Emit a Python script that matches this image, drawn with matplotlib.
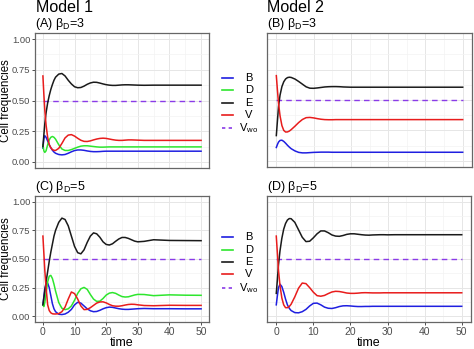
import matplotlib
matplotlib.use("Agg")
import matplotlib.pyplot as plt
from matplotlib.lines import Line2D
from matplotlib.ticker import MultipleLocator, FormatStrFormatter

plt.rcParams["font.family"] = ["Liberation Sans", "DejaVu Sans"]
plt.rcParams["mathtext.fontset"] = "custom"
plt.rcParams["mathtext.rm"] = "Liberation Sans"
plt.rcParams["mathtext.it"] = "Liberation Sans:italic"

# shared time grid
t = [0, 0.3, 0.6, 1, 1.5, 2, 2.5, 3, 3.5, 4,
     5, 6, 7, 8, 9, 10, 11, 12, 13, 14,
     15, 16, 17, 18, 19, 20, 21, 22, 23, 24,
     25, 26, 27, 28, 29, 30, 32, 35, 40, 45, 50]

# (A) Model 1, beta_D = 3
a_B = [0.112, 0.19, 0.213, 0.20, 0.17, 0.14, 0.115, 0.095, 0.08, 0.07,
       0.06, 0.057, 0.06, 0.07, 0.082, 0.092, 0.097, 0.097, 0.094, 0.089,
       0.085, 0.083, 0.083, 0.084, 0.086, 0.087, 0.087, 0.087, 0.087, 0.087,
       0.087, 0.087, 0.087, 0.087, 0.087, 0.087, 0.087, 0.087, 0.087, 0.087, 0.087]
a_D = [0.14, 0.09, 0.077, 0.09, 0.14, 0.18, 0.2, 0.207, 0.2, 0.185,
       0.14, 0.105, 0.093, 0.093, 0.1, 0.11, 0.12, 0.128, 0.131, 0.131,
       0.128, 0.125, 0.122, 0.12, 0.12, 0.121, 0.122, 0.122, 0.122, 0.122,
       0.122, 0.122, 0.122, 0.122, 0.122, 0.122, 0.122, 0.122, 0.122, 0.122, 0.122]
a_E = [0.125, 0.22, 0.31, 0.40, 0.48, 0.54, 0.59, 0.63, 0.665, 0.69,
       0.715, 0.72, 0.70, 0.665, 0.635, 0.612, 0.604, 0.606, 0.617, 0.632,
       0.643, 0.649, 0.648, 0.642, 0.635, 0.629, 0.625, 0.623, 0.623, 0.625,
       0.627, 0.628, 0.628, 0.627, 0.626, 0.625, 0.624, 0.625, 0.625, 0.625, 0.625]
a_V = [0.70, 0.55, 0.42, 0.30, 0.20, 0.14, 0.115, 0.10, 0.094, 0.093,
       0.11, 0.15, 0.195, 0.218, 0.222, 0.21, 0.192, 0.176, 0.167, 0.166,
       0.171, 0.179, 0.186, 0.191, 0.193, 0.191, 0.186, 0.181, 0.177, 0.175,
       0.175, 0.177, 0.179, 0.179, 0.178, 0.177, 0.175, 0.175, 0.175, 0.175, 0.175]

# (B) Model 2, beta_D = 3
b_B = [0.11, 0.135, 0.155, 0.168, 0.17, 0.16, 0.145, 0.128, 0.113, 0.10,
       0.082, 0.07, 0.066, 0.066, 0.068, 0.07, 0.071, 0.072, 0.072, 0.072,
       0.071, 0.071, 0.071, 0.071, 0.071, 0.071, 0.071, 0.071, 0.071, 0.071,
       0.071, 0.071, 0.071, 0.071, 0.071, 0.071, 0.071, 0.071, 0.071, 0.071, 0.071]
b_E = [0.208, 0.33, 0.45, 0.54, 0.61, 0.65, 0.673, 0.684, 0.687, 0.685,
       0.672, 0.652, 0.63, 0.608, 0.597, 0.596, 0.599, 0.603, 0.607, 0.609,
       0.61, 0.61, 0.609, 0.607, 0.606, 0.605, 0.605, 0.605, 0.605, 0.605,
       0.605, 0.605, 0.605, 0.605, 0.605, 0.605, 0.605, 0.605, 0.605, 0.605, 0.605]
b_V = [0.70, 0.58, 0.47, 0.37, 0.29, 0.25, 0.237, 0.238, 0.245, 0.257,
       0.285, 0.315, 0.34, 0.355, 0.357, 0.353, 0.347, 0.342, 0.339, 0.338,
       0.338, 0.339, 0.339, 0.339, 0.339, 0.339, 0.339, 0.339, 0.339, 0.339,
       0.339, 0.339, 0.339, 0.339, 0.339, 0.339, 0.339, 0.339, 0.339, 0.339, 0.339]

# (C) Model 1, beta_D = 5
c_B = [0.10, 0.17, 0.24, 0.28, 0.29, 0.25, 0.18, 0.11, 0.065, 0.04,
       0.018, 0.015, 0.02, 0.035, 0.06, 0.10, 0.122, 0.115, 0.09, 0.065,
       0.048, 0.04, 0.042, 0.052, 0.065, 0.075, 0.08, 0.078, 0.072, 0.066,
       0.062, 0.06, 0.06, 0.062, 0.064, 0.066, 0.068, 0.066, 0.066, 0.065, 0.065]
c_D = [0.10, 0.085, 0.12, 0.20, 0.30, 0.35, 0.357, 0.33, 0.28, 0.22,
       0.12, 0.07, 0.058, 0.065, 0.09, 0.14, 0.20, 0.24, 0.252, 0.235,
       0.19, 0.15, 0.13, 0.132, 0.155, 0.185, 0.202, 0.207, 0.20, 0.185,
       0.172, 0.168, 0.17, 0.178, 0.186, 0.191, 0.19, 0.18, 0.187, 0.184, 0.183]
c_E = [0.10, 0.16, 0.22, 0.30, 0.39, 0.48, 0.56, 0.63, 0.70, 0.75,
       0.82, 0.857, 0.845, 0.79, 0.70, 0.61, 0.555, 0.545, 0.58, 0.645,
       0.70, 0.728, 0.72, 0.69, 0.65, 0.627, 0.622, 0.633, 0.655, 0.675,
       0.688, 0.688, 0.68, 0.668, 0.656, 0.65, 0.654, 0.668, 0.662, 0.661, 0.66]
c_V = [0.70, 0.55, 0.40, 0.25, 0.10, 0.05, 0.03, 0.022, 0.02, 0.02,
       0.023, 0.04, 0.08, 0.15, 0.212, 0.198, 0.15, 0.09, 0.058, 0.06,
       0.075, 0.095, 0.115, 0.125, 0.126, 0.117, 0.103, 0.092, 0.088, 0.088,
       0.092, 0.098, 0.103, 0.105, 0.104, 0.10, 0.094, 0.092, 0.096, 0.095, 0.095]

# (D) Model 2, beta_D = 5
d_B = [0.10, 0.18, 0.25, 0.28, 0.26, 0.21, 0.15, 0.10, 0.07, 0.05,
       0.032, 0.03, 0.04, 0.06, 0.09, 0.113, 0.115, 0.10, 0.08, 0.07,
       0.068, 0.075, 0.085, 0.091, 0.092, 0.09, 0.087, 0.085, 0.085, 0.086,
       0.086, 0.087, 0.087, 0.087, 0.087, 0.087, 0.087, 0.087, 0.087, 0.087, 0.087]
d_E = [0.20, 0.32, 0.45, 0.57, 0.68, 0.76, 0.81, 0.84, 0.853, 0.852,
       0.82, 0.755, 0.69, 0.652, 0.655, 0.685, 0.72, 0.745, 0.745, 0.73,
       0.71, 0.70, 0.698, 0.705, 0.715, 0.72, 0.72, 0.716, 0.712, 0.709,
       0.708, 0.71, 0.711, 0.712, 0.712, 0.711, 0.712, 0.712, 0.712, 0.712, 0.712]
d_V = [0.70, 0.55, 0.40, 0.27, 0.16, 0.10, 0.075, 0.075, 0.085, 0.105,
       0.17, 0.245, 0.29, 0.285, 0.25, 0.21, 0.18, 0.175, 0.182, 0.198,
       0.212, 0.218, 0.216, 0.21, 0.203, 0.20, 0.20, 0.202, 0.205, 0.206,
       0.205, 0.204, 0.204, 0.204, 0.205, 0.205, 0.205, 0.205, 0.205, 0.205, 0.205]

v_wo = 0.5
legend_labels = ["B", "D", "E", "V", r"$\mathregular{V_{wo}}$"]
colors = {"B": "#1f1fe0", "D": "#2ee62e", "E": "#1a1a1a", "V": "#e81c1c", "Vwo": "#8a3be8"}

W, H = 474, 349
fig = plt.figure(figsize=(W / 100, H / 100), dpi=100)


def px_axes(l, t_, r, b):
    return fig.add_axes([l / W, 1 - b / H, (r - l) / W, (b - t_) / H])


panels = [
    (px_axes(35, 33, 209, 168), {"B": a_B, "D": a_D, "E": a_E, "V": a_V}, r"(A) $\mathregular{\beta_D}$=3", True, False),
    (px_axes(267, 33, 472, 167), {"B": b_B, "E": b_E, "V": b_V}, r"(B) $\mathregular{\beta_D}$=3", False, False),
    (px_axes(35, 196, 209, 322), {"B": c_B, "D": c_D, "E": c_E, "V": c_V}, r"(C) $\mathregular{\beta_D}$=5", True, True),
    (px_axes(267, 196, 471, 322), {"B": d_B, "E": d_E, "V": d_V}, r"(D) $\mathregular{\beta_D}$=5", False, True),
]

for ax, series, title, show_y, show_x in panels:
    ax.set_xlim(-2.5, 52.5)
    ax.set_ylim(-0.05, 1.05)
    ax.xaxis.set_major_locator(MultipleLocator(10))
    ax.xaxis.set_minor_locator(MultipleLocator(5))
    ax.yaxis.set_major_locator(MultipleLocator(0.25))
    ax.yaxis.set_minor_locator(MultipleLocator(0.125))
    ax.grid(True, which="major", color="#e6e6e6", lw=0.7)
    ax.grid(True, which="minor", color="#f3f3f3", lw=0.5)
    ax.set_axisbelow(True)
    for sp in ax.spines.values():
        sp.set_color("#666666")
        sp.set_linewidth(0.9)
    ax.tick_params(which="minor", length=0)
    ax.tick_params(which="major", length=2.2, width=0.6, color="#333333",
                   labelsize=6.8, labelcolor="#4d4d4d", pad=1.2)
    ax.tick_params(axis="x", labelsize=7.5)
    if show_y:
        ax.yaxis.set_major_formatter(FormatStrFormatter("%.2f"))
        ax.set_ylabel("Cell frequencies", fontsize=8.3)
        ax.yaxis.set_label_coords((12 - 35) / 174, 0.5)
    else:
        ax.tick_params(axis="y", left=False, labelleft=False)
    if show_x:
        ax.set_xlabel("time", fontsize=9, labelpad=0)
    else:
        ax.tick_params(axis="x", bottom=False, labelbottom=False)

    ax.plot([0, 50], [v_wo, v_wo], color=colors["Vwo"], lw=1.0, ls=(0, (4, 3)))
    for key in ["B", "D", "E", "V"]:
        if key in series:
            ax.plot(t, series[key], color=colors[key], lw=1.1)
    ax.set_title(title, loc="left", fontsize=9, pad=4)

fig.text(36 / W, 1 - 8 / H, "Model 1", fontsize=11.5, va="center", ha="left")
fig.text(267 / W, 1 - 8 / H, "Model 2", fontsize=11.5, va="center", ha="left")

# legends between columns
keys = ["B", "D", "E", "V", "Vwo"]
for ys in ([78, 90, 103, 115, 128], [237, 250, 262, 274, 288]):
    for key, lab, y in zip(keys, legend_labels, ys):
        ls = (0, (2, 2)) if key == "Vwo" else "-"
        fig.add_artist(Line2D([222 / W, 233 / W], [1 - y / H, 1 - y / H],
                              color=colors[key], lw=1.2, ls=ls))
        fig.text(249 / W, 1 - y / H, lab, fontsize=8, ha="center", va="center")

fig.savefig("out.png", dpi=100)
